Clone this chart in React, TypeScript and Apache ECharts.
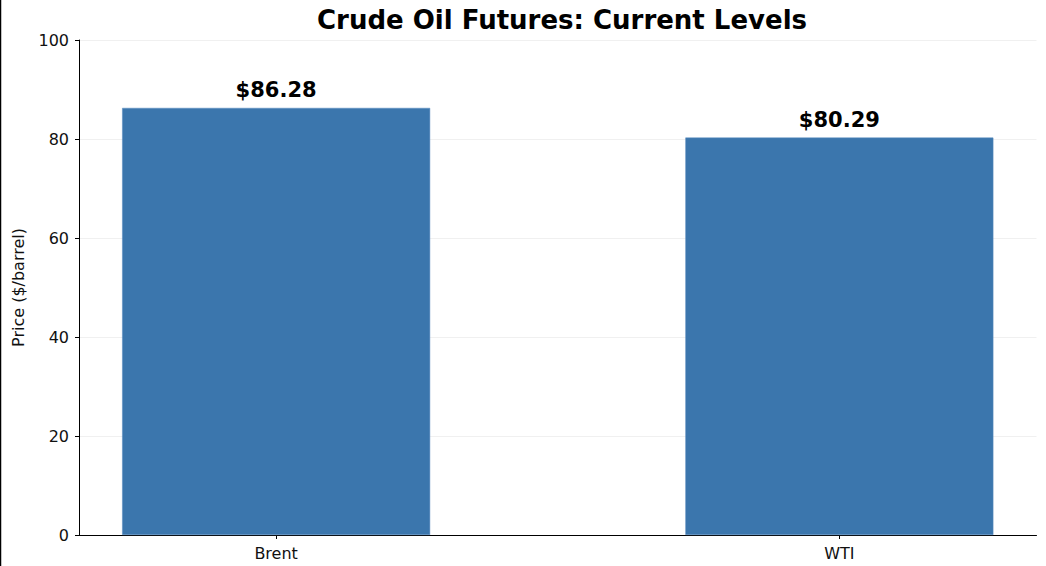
import React, { useEffect, useRef } from "react";
import * as echarts from "echarts";

const categories = ["Brent", "WTI"];
const prices = [86.28, 80.29];
const yTicks = [0, 20, 40, 60, 80, 100];

const FONT = "'DejaVu Sans', sans-serif";

export default function App() {
  const ref = useRef<HTMLDivElement>(null);
  useEffect(() => {
    if (!ref.current) return;
    const chart = echarts.init(ref.current, null, { renderer: "svg" });
    const positions = categories.map((_, i) => i);
    chart.setOption({
      animation: false,
      backgroundColor: "#ffffff",
      textStyle: { fontFamily: FONT },
      title: {
        text: "Crude Oil Futures: Current Levels",
        left: 557,
        textAlign: "center",
        top: 2,
        textStyle: { fontFamily: FONT, fontSize: 26, fontWeight: "bold", color: "#000" },
      },
      graphic: [
        {
          type: "line",
          shape: { x1: 0.5, y1: 0, x2: 0.5, y2: 566 },
          style: { stroke: "#000", lineWidth: 1.5 },
        },
      ],
      grid: { left: 79, right: 9.5, top: 40, bottom: 31 },
      xAxis: {
        type: "value",
        min: -0.35,
        max: 1.35,
        splitLine: { show: false },
        axisLine: { show: true, onZero: false, lineStyle: { color: "#000", width: 1 } },
        axisTick: { show: true, customValues: positions, length: 4, lineStyle: { color: "#000" } },
        axisLabel: {
          customValues: positions,
          formatter: (v: number) => categories[Math.round(v)] ?? "",
          fontFamily: FONT,
          fontSize: 16,
          color: "#111",
          margin: 10,
        },
      },
      yAxis: {
        type: "value",
        min: 0,
        max: 100,
        interval: 20,
        name: "Price ($/barrel)",
        nameLocation: "middle",
        nameGap: 53,
        nameTextStyle: { fontFamily: FONT, fontSize: 16, color: "#111" },
        axisLine: { show: true, onZero: false, lineStyle: { color: "#000", width: 1 } },
        axisTick: { show: true, length: 4, lineStyle: { color: "#000" } },
        axisLabel: {
          fontFamily: FONT,
          fontSize: 16,
          color: "#111",
          margin: 10,
          formatter: (v: number) => (yTicks.includes(v) ? String(v) : ""),
        },
        splitLine: { show: true, lineStyle: { color: "#ececec", width: 0.8 } },
      },
      series: [
        {
          type: "bar",
          data: prices.map((p, i) => [i, p]),
          barWidth: 308,
          itemStyle: { color: "#3b76ad", borderColor: "#5a8cc0", borderWidth: 0.5 },
          label: {
            show: true,
            position: "top",
            distance: 7,
            formatter: (p: any) => "$" + p.value[1].toFixed(2),
            fontFamily: FONT,
            fontSize: 21,
            fontWeight: "bold",
            color: "#000",
          },
        },
      ],
    });
    return () => chart.dispose();
  }, []);
  return (
    <div
      ref={ref}
      style={{ position: "fixed", left: 0, top: 0, width: 1046, height: 566 }}
    />
  );
}
